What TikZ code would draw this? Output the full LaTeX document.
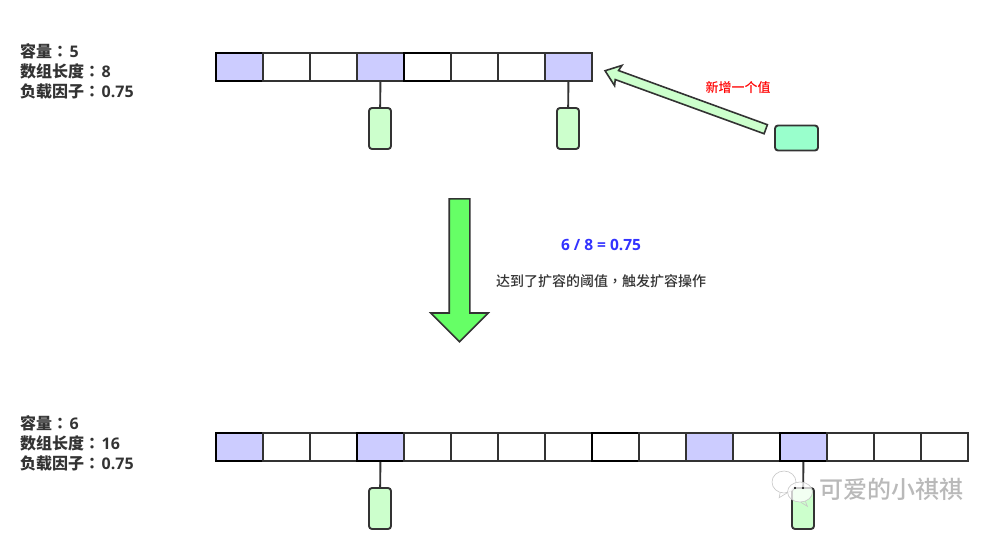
\documentclass[tikz,border=0pt]{standalone}
\usepackage{fontspec}
\setmainfont{Open Sans}
\newfontfamily\cjk{Noto Sans CJK SC Medium}
\newfontfamily\cjkpunct{Noto Sans CJK TC Medium}
\newcommand{\colonsep}{{\cjkpunct ：}\hspace{1.5pt}}
\usetikzlibrary{shapes.arrows,shapes.geometric}
\definecolor{ink}{HTML}{333333}
\definecolor{slotblue}{HTML}{CCCCFF}
\definecolor{nodegreen}{HTML}{CCFFCC}
\definecolor{valuegreen}{HTML}{99FFCC}
\definecolor{growgreen}{HTML}{66FF66}
\definecolor{calcblue}{HTML}{3333FF}
\tikzset{
	slot/.style={draw=ink, line width=1.6pt, minimum width=47pt, minimum height=28pt, inner sep=0pt},
	slotfull/.style={slot, fill=slotblue},
	slotdark/.style={slot, draw=black},
	slotfulldark/.style={slot, draw=black, fill=slotblue},
	bucket/.style={draw=ink, line width=1.9pt, fill=nodegreen, rounded corners=3pt, minimum width=22pt, minimum height=41pt, inner sep=0pt},
	link/.style={draw=ink, line width=1.9pt},
	info/.style={anchor=north west, align=left, inner sep=0pt, font=\bfseries\fontsize{16}{20}\selectfont, text=ink},
	blockarrow/.style={single arrow, draw=ink, line width=1.6pt, inner sep=0pt, shape border rotate=0},
	bubble/.style={ellipse, draw=gray!45, fill=white, fill opacity=.75, line width=.6pt, inner sep=0pt}
}
\begin{document}
\begin{tikzpicture}[x=1pt, y=-1pt]
	\useasboundingbox (0,0) rectangle (995,533);

	% old table
	\foreach \i/\sty in {1/slotfulldark,2/slot,3/slot,4/slotfull,5/slotdark,6/slot,7/slot,8/slotfull}
		\node [\sty] (old\i) at ({192.5+47*\i},67) {};
	\node [bucket] (oldb4) at (380,128.5) {};
	\node [bucket] (oldb8) at (568,128.5) {};
	\draw [link] (old4) -- (oldb4);
	\draw [link] (old8) -- (oldb8);

	\node [info] (oldinfo) at (20,43) {{\cjk 容量}\colonsep 5\\{\cjk 数组长度}\colonsep 8\\{\cjk 负载因子}\colonsep 0.75};

	% new value
	\node [draw=ink, line width=1.9pt, fill=valuegreen, rounded corners=3pt, minimum width=43pt, minimum height=25pt, inner sep=0pt] (newval) at (796.5,138) {};
	\node [blockarrow, fill=nodegreen, rotate=160, anchor=tail, minimum height=171pt, minimum width=20pt, inner ysep=4pt, single arrow tip angle=75, single arrow head extend=6pt, single arrow head indent=1.5pt] (addarrow) at (766.5,129.5) {};
	\node [text=red, font=\cjk\fontsize{13}{13}\selectfont, inner sep=0pt] (addlabel) at (738,88) {新增一个值};

	% resize
	\node [blockarrow, fill=growgreen, rotate=-90, anchor=tail, minimum height=143pt, minimum width=56pt, inner ysep=9.5pt, single arrow tip angle=90, single arrow head extend=18.5pt] (grow) at (459.5,198) {};
	\node [text=calcblue, font=\bfseries\fontsize{15.5}{15.5}\selectfont, inner sep=0pt] (calc) at (601,245) {6 / 8 = 0.75};
	\node [text=ink, font=\cjk\fontsize{14}{14}\selectfont, inner sep=0pt] (reason) at (601,281) {达到了扩容的阈值{\cjkpunct ，}触发扩容操作};

	% new table
	\foreach \i/\sty in {1/slotfulldark,2/slot,3/slot,4/slotfulldark,5/slot,6/slot,7/slot,8/slot,9/slotdark,10/slot,11/slotfull,12/slot,13/slotfulldark,14/slot,15/slot,16/slot}
		\node [\sty] (new\i) at ({192.5+47*\i},447) {};
	\node [bucket] (newb4) at (380,508.5) {};
	\node [bucket] (newb13) at (803,508.5) {};
	\draw [link] (new4) -- (newb4);
	\draw [link] (new13) -- (newb13);

	\node [info] (newinfo) at (20,415) {{\cjk 容量}\colonsep 6\\{\cjk 数组长度}\colonsep 16\\{\cjk 负载因子}\colonsep 0.75};

	% watermark
	\node [bubble, minimum width=24pt, minimum height=22pt] (chatback) at (784,482) {};
	\draw [draw=gray!45, line width=.6pt] (chatback.250) -- ++(-1,5) -- (chatback.285);
	\node [bubble, minimum width=25pt, minimum height=20pt] (chatfront) at (800,492) {};
	\draw [draw=gray!45, line width=.6pt] (chatfront.-60) -- ++(2,5) -- (chatfront.-85);
	\node [circle, fill=black, inner sep=.8pt] (eyeleft) at (795,488) {};
	\node [circle, fill=black, inner sep=.8pt] (eyeright) at (803,488) {};
	\node [text=gray!55, font=\cjk\fontsize{24}{24}\selectfont, inner sep=0pt, anchor=west] (mark) at (819,489) {可爱的小祺祺};
\end{tikzpicture}
\end{document}
